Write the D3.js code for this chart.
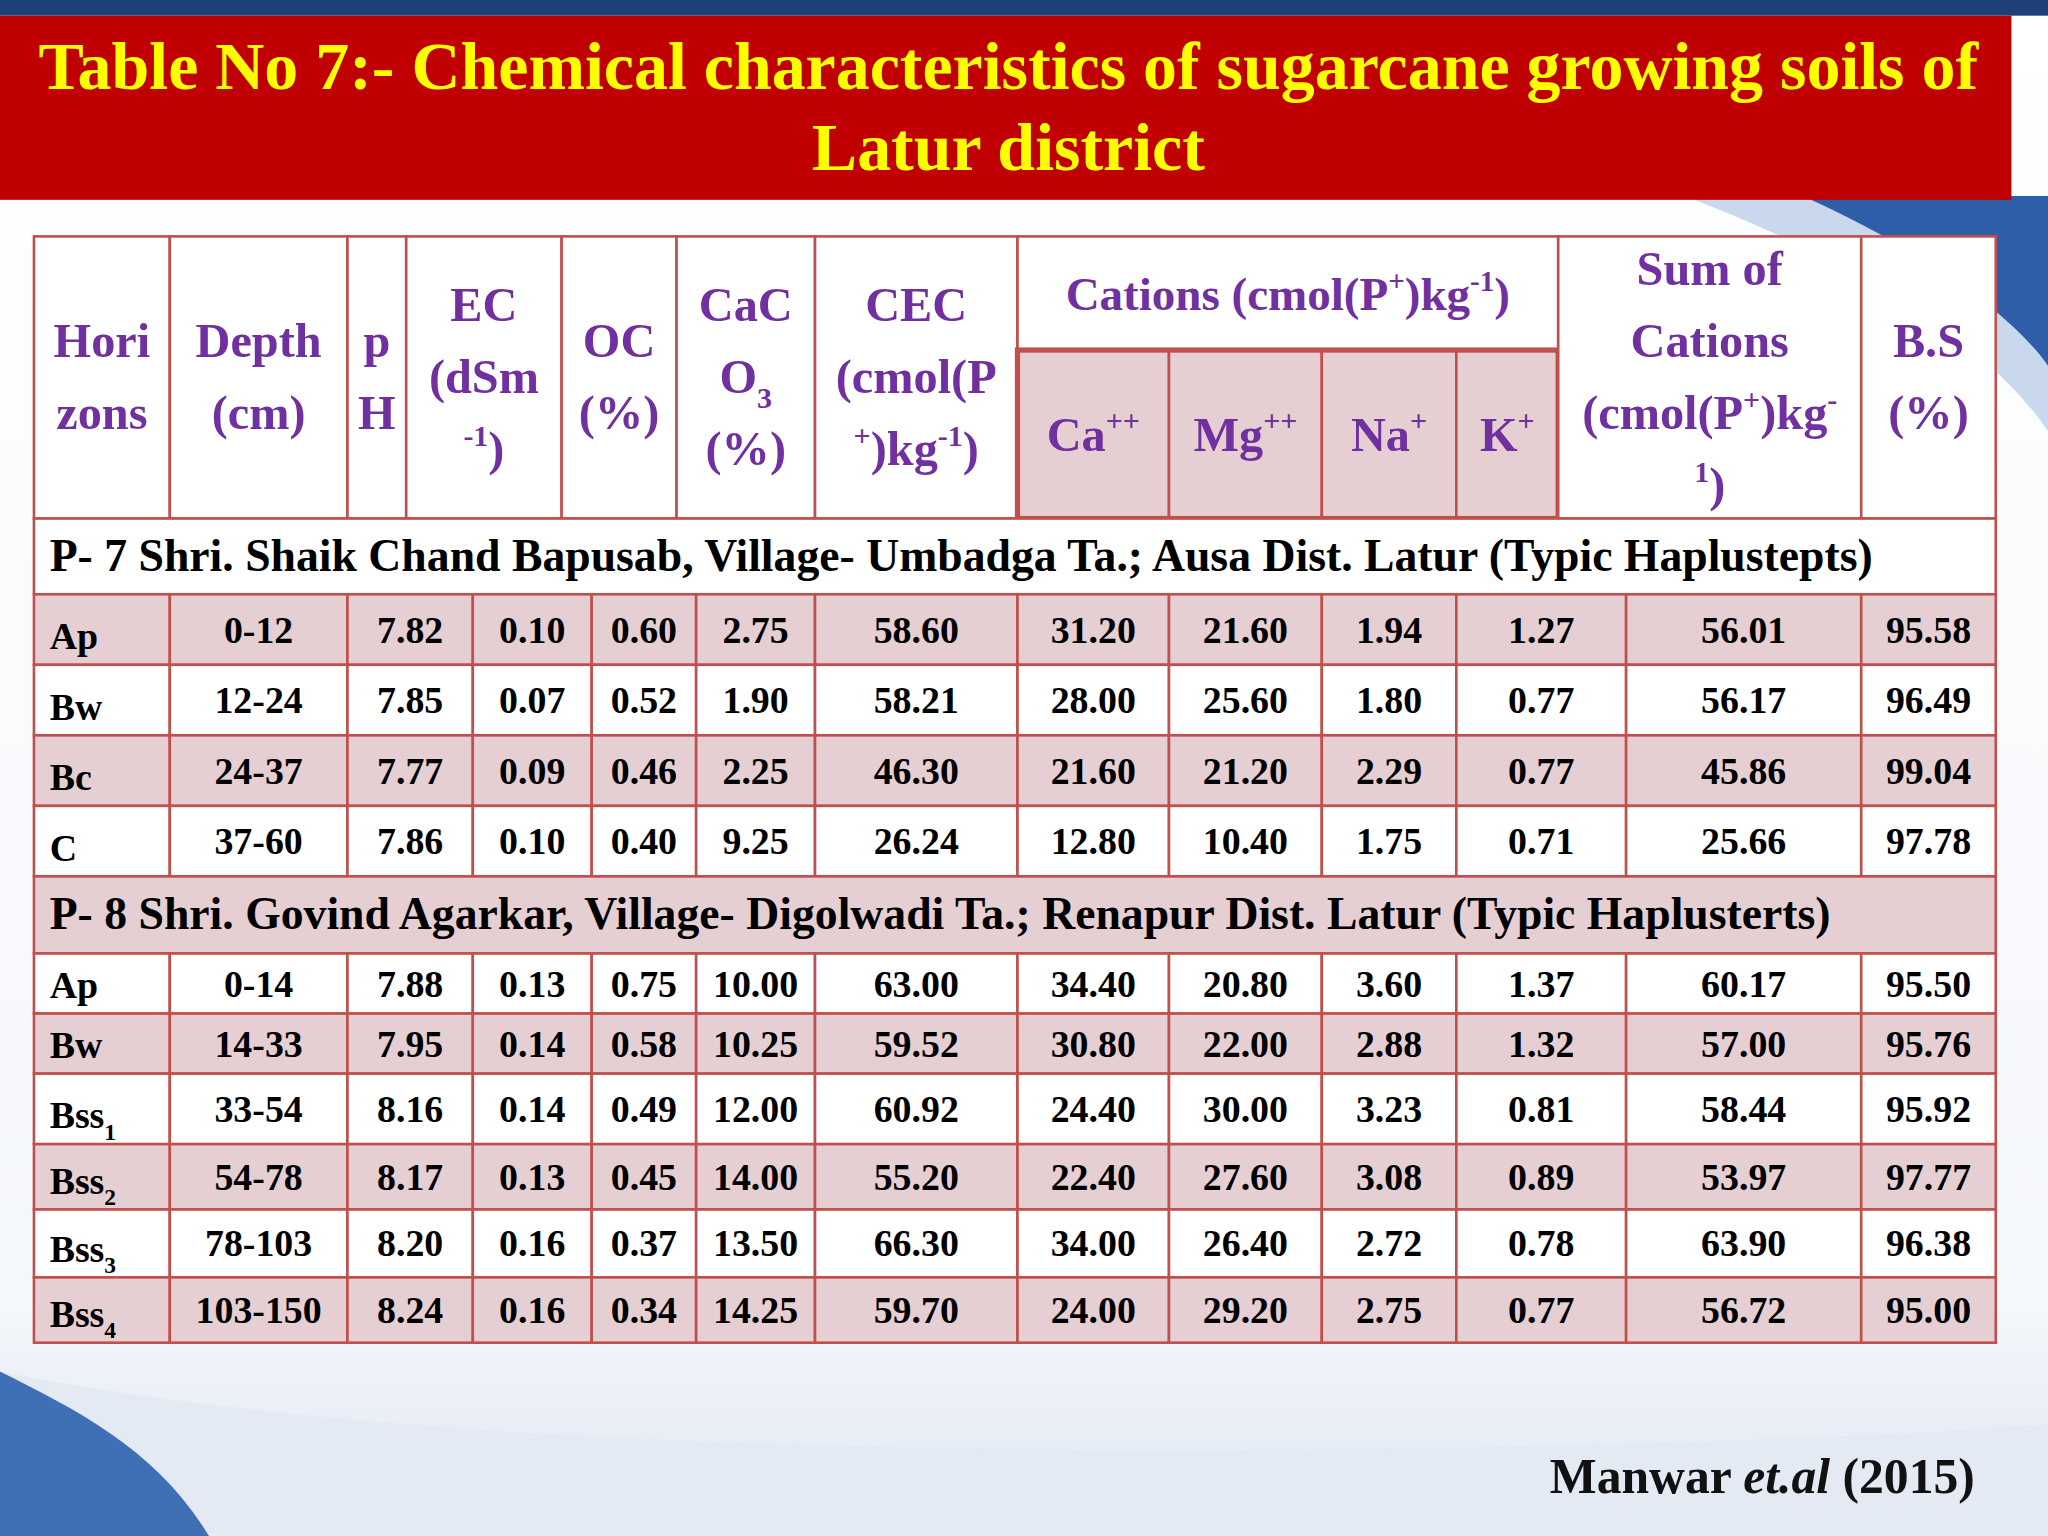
<!DOCTYPE html>
<html>
<head>
<script src="https://cdn.jsdelivr.net/npm/d3@7"></script>
<style>
  body { margin: 0; background: #fff; }
  text { font-family: "Liberation Serif", "DejaVu Serif", serif; font-weight: bold; }
</style>
</head>
<body>
<script>
// ---- data ---- ("^x" = superscript, "_x" = subscript)
const titleLines = ["Table No 7:- Chemical characteristics of sugarcane growing soils of", "Latur district"];
const sections = [
  "P- 7 Shri. Shaik Chand Bapusab, Village- Umbadga Ta.; Ausa Dist. Latur (Typic Haplustepts)",
  "P- 8 Shri. Govind Agarkar, Village- Digolwadi Ta.; Renapur Dist. Latur (Typic Haplusterts)"
];
const horizons1 = [["Ap"], ["Bw"], ["Bc"], ["C"]];
const horizons2 = [["Ap"], ["Bw"], ["Bss", "_1"], ["Bss", "_2"], ["Bss", "_3"], ["Bss", "_4"]];
const values1 = [
  ["0-12", "7.82", "0.10", "0.60", "2.75", "58.60", "31.20", "21.60", "1.94", "1.27", "56.01", "95.58"],
  ["12-24", "7.85", "0.07", "0.52", "1.90", "58.21", "28.00", "25.60", "1.80", "0.77", "56.17", "96.49"],
  ["24-37", "7.77", "0.09", "0.46", "2.25", "46.30", "21.60", "21.20", "2.29", "0.77", "45.86", "99.04"],
  ["37-60", "7.86", "0.10", "0.40", "9.25", "26.24", "12.80", "10.40", "1.75", "0.71", "25.66", "97.78"]
];
const values2 = [
  ["0-14", "7.88", "0.13", "0.75", "10.00", "63.00", "34.40", "20.80", "3.60", "1.37", "60.17", "95.50"],
  ["14-33", "7.95", "0.14", "0.58", "10.25", "59.52", "30.80", "22.00", "2.88", "1.32", "57.00", "95.76"],
  ["33-54", "8.16", "0.14", "0.49", "12.00", "60.92", "24.40", "30.00", "3.23", "0.81", "58.44", "95.92"],
  ["54-78", "8.17", "0.13", "0.45", "14.00", "55.20", "22.40", "27.60", "3.08", "0.89", "53.97", "97.77"],
  ["78-103", "8.20", "0.16", "0.37", "13.50", "66.30", "34.00", "26.40", "2.72", "0.78", "63.90", "96.38"],
  ["103-150", "8.24", "0.16", "0.34", "14.25", "59.70", "24.00", "29.20", "2.75", "0.77", "56.72", "95.00"]
];
const headers = [
  [["Hori"], ["zons"]],
  [["Depth"], ["(cm)"]],
  [["p"], ["H"]],
  [["EC"], ["(dSm"], ["^-1", ")"]],
  [["OC"], ["(%)"]],
  [["CaC"], ["O", "_3"], ["(%)"]],
  [["CEC"], ["(cmol(P"], ["^+", ")kg", "^-1", ")"]],
  null,
  [["Sum of"], ["Cations"], ["(cmol(P", "^+", ")kg", "^-"], ["^1", ")"]],
  [["B.S"], ["(%)"]]
];
const cationTitle = ["Cations (cmol(P", "^+", ")kg", "^-1", ")"];
const cationLabels = [["Ca", "^++"], ["Mg", "^++"], ["Na", "^+"], ["K", "^+"]];

// ---- layout ----
const W = 1568, H = 1176;
const svg = d3.select("body").append("svg")
  .attr("width", 2048).attr("height", 1536)
  .attr("viewBox", `0 0 ${W} ${H}`);
const defs = svg.append("defs");
const bg = defs.append("linearGradient").attr("id", "bg").attr("x1", 0).attr("y1", 0).attr("x2", 0).attr("y2", 1);
bg.append("stop").attr("offset", 0).attr("stop-color", "#ffffff");
bg.append("stop").attr("offset", 0.85).attr("stop-color", "#f4f7fb");
bg.append("stop").attr("offset", 1).attr("stop-color", "#dfe7f2");
svg.append("rect").attr("width", W).attr("height", H).attr("fill", "url(#bg)");
svg.append("path").attr("d", "M1290,150 C1420,200 1520,260 1568,330 L1568,150 Z").attr("fill", "#c9d8ec");
svg.append("path").attr("d", "M1380,150 C1470,190 1540,240 1568,280 L1568,150 Z").attr("fill", "#2f5ea8");
svg.append("path").attr("d", "M0,1050 C200,1090 500,1110 900,1110 C1200,1110 1450,1100 1568,1090 L1568,1176 L0,1176 Z").attr("fill", "#e3eaf4");
svg.append("path").attr("d", "M0,1050 C60,1080 120,1110 160,1176 L0,1176 Z").attr("fill", "#3f6fb5");
svg.append("rect").attr("width", W).attr("height", 12).attr("fill", "#1f3f78");

svg.append("rect").attr("x", 0).attr("y", 12).attr("width", 1540).attr("height", 141).attr("fill", "#c00000");
svg.selectAll("text.title").data(titleLines).join("text").attr("class", "title")
  .attr("x", 772).attr("y", (d, i) => 68 + i * 62)
  .attr("text-anchor", "middle").attr("font-size", 52).attr("fill", "#ffff00").text(d => d);

const red = "#c0504d", pink = "#e6cfd2", purple = "#7030a0";
const g = svg.append("g");

function cellText(parent, parts, x, y, size, fill, anchor) {
  const t = parent.append("text").attr("x", x).attr("y", y).attr("text-anchor", anchor || "middle")
    .attr("font-size", size).attr("fill", fill);
  let shift = 0;
  parts.forEach(p => {
    let target = 0, txt = p, small = false;
    if (p[0] === "^") { target = -size * 0.4; txt = p.slice(1); small = true; }
    else if (p[0] === "_") { target = size * 0.3; txt = p.slice(1); small = true; }
    const ts = t.append("tspan").attr("dy", target - shift).text(txt);
    if (small) ts.attr("font-size", size * 0.62);
    shift = target;
  });
  return t;
}

const hx = [26, 130, 266, 311, 430, 518, 624, 779, 1193, 1425, 1528];
const cx = [779, 895, 1012, 1115, 1193];
const hTop = 181, hMid = 268, hBot = 397;
headers.forEach((h, i) => {
  const x0 = hx[i], x1 = hx[i + 1];
  if (h === null) {
    g.append("rect").attr("x", x0).attr("y", hTop).attr("width", x1 - x0).attr("height", hMid - hTop)
      .attr("fill", "#fff").attr("stroke", red).attr("stroke-width", 2);
    cellText(g, cationTitle, (x0 + x1) / 2, 237, 36, purple);
    cationLabels.forEach((c, j) => {
      g.append("rect").attr("x", cx[j]).attr("y", hMid).attr("width", cx[j + 1] - cx[j]).attr("height", hBot - hMid)
        .attr("fill", pink).attr("stroke", red).attr("stroke-width", 2);
      cellText(g, c, (cx[j] + cx[j + 1]) / 2, 345, 37, purple);
    });
    g.append("rect").attr("x", x0).attr("y", hMid).attr("width", x1 - x0).attr("height", hBot - hMid)
      .attr("fill", "none").attr("stroke", red).attr("stroke-width", 4);
    return;
  }
  g.append("rect").attr("x", x0).attr("y", hTop).attr("width", x1 - x0).attr("height", hBot - hTop)
    .attr("fill", "#fff").attr("stroke", red).attr("stroke-width", 2);
  const n = h.length, lh = 55;
  const y0 = (hTop + hBot) / 2 - (n - 1) * lh / 2 + 12;
  h.forEach((ln, k) => cellText(g, ln, (x0 + x1) / 2, y0 + k * lh, 37, purple));
});

const dx = [26, 130, 266, 362, 453, 533, 624, 779, 895, 1012, 1115, 1245, 1425, 1528];
const blocks = [
  { title: sections[0], ty: [397, 455], fillT: "#fff", hz: horizons1, vals: values1, ys: [455, 509, 563, 617, 671], fills: [pink, "#fff", pink, "#fff"] },
  { title: sections[1], ty: [671, 730], fillT: pink, hz: horizons2, vals: values2, ys: [730, 776, 822, 876, 926, 978, 1028], fills: ["#fff", pink, "#fff", pink, "#fff", pink] }
];
blocks.forEach(b => {
  g.append("rect").attr("x", 26).attr("y", b.ty[0]).attr("width", 1502).attr("height", b.ty[1] - b.ty[0])
    .attr("fill", b.fillT).attr("stroke", red).attr("stroke-width", 2);
  g.append("text").attr("x", 38).attr("y", (b.ty[0] + b.ty[1]) / 2 + 11).attr("font-size", 35).attr("fill", "#000").text(b.title);
  b.vals.forEach((row, r) => {
    const y0 = b.ys[r], y1 = b.ys[r + 1];
    const cells = [b.hz[r]].concat(row.map(v => [v]));
    cells.forEach((c, i) => {
      g.append("rect").attr("x", dx[i]).attr("y", y0).attr("width", dx[i + 1] - dx[i]).attr("height", y1 - y0)
        .attr("fill", b.fills[r]).attr("stroke", red).attr("stroke-width", 2);
      if (i === 0) cellText(g, c, 38, y1 - 12, 29, "#000", "start");
      else cellText(g, c, (dx[i] + dx[i + 1]) / 2, (y0 + y1) / 2 + 10, 29, "#000");
    });
  });
});

const ct = svg.append("text").attr("x", 1512).attr("y", 1143).attr("text-anchor", "end").attr("font-size", 38).attr("fill", "#111");
ct.append("tspan").text("Manwar ");
ct.append("tspan").attr("font-style", "italic").text("et.al");
ct.append("tspan").text(" (2015)");
</script>
</body>
</html>
